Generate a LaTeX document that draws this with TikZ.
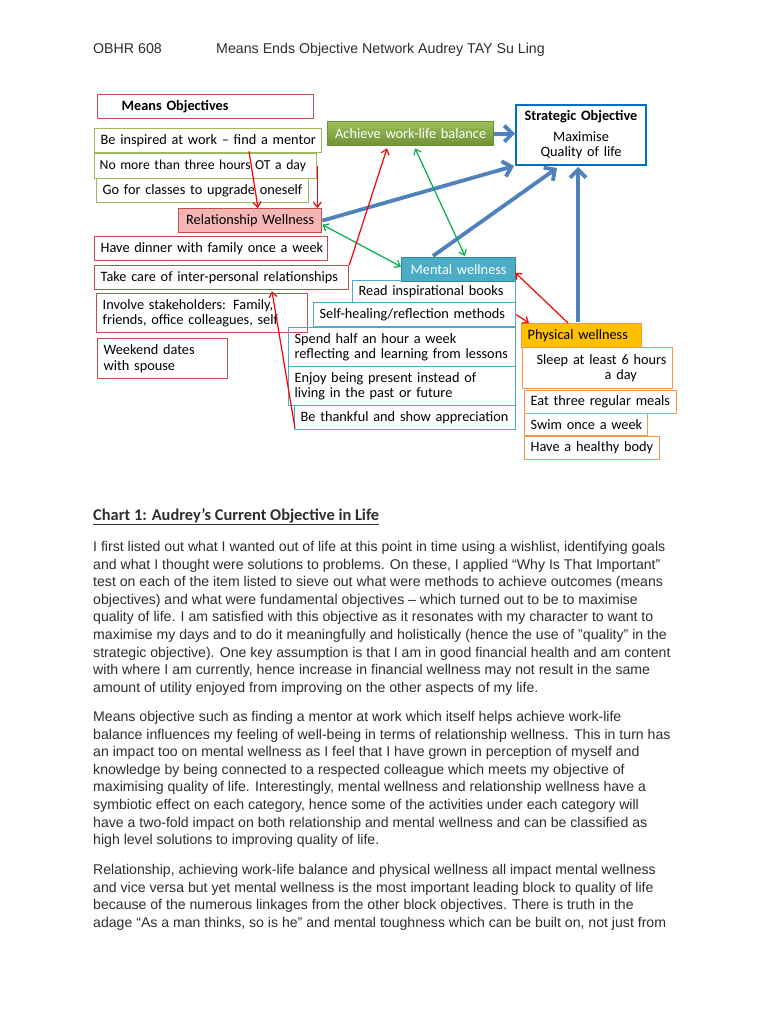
\documentclass[tikz,border=0pt]{standalone}
\usepackage{fontspec}
\setmainfont{Liberation Sans}
\newfontfamily\calfont{Carlito}
\usetikzlibrary{arrows.meta,calc}
\definecolor{myred}{HTML}{C0504D}
\definecolor{mygreen}{HTML}{9BBB59}
\definecolor{myteal}{HTML}{4BACC6}
\definecolor{mytealdark}{HTML}{31859C}
\definecolor{myorange}{HTML}{F79646}
\definecolor{myyellow}{HTML}{FFC000}
\definecolor{mypink}{HTML}{F5B5B4}
\definecolor{myblue}{HTML}{4F81BD}
\definecolor{stratblue}{HTML}{0070C0}
\definecolor{arrred}{HTML}{FF0000}
\definecolor{arrgreen}{HTML}{00B050}
\definecolor{greentop}{HTML}{9CBF5A}
\definecolor{greenbot}{HTML}{6F9136}
\newcommand\dfont{\calfont\fontsize{14.3}{15.5}\selectfont}
\newcommand\bodyfont{\fontsize{14.1}{17.6}\selectfont}
\tikzset{
  x=1pt, y=-1pt,
  base/.style={anchor=north west, inner xsep=6pt, inner ysep=0pt, align=left, font=\dfont, line width=1.3pt},
  rbox/.style={base, draw=myred},
  gbox/.style={base, draw=mygreen},
  bbox/.style={base, draw=myteal},
  obox/.style={base, draw=myorange},
  bline/.style={anchor=west, inner sep=0pt, font=\bodyfont, text=black!82, text height=10pt, text depth=3pt},
  bluearr/.style={draw=myblue, line width=3.8pt, -{Straight Barb[length=8pt,width=16pt]}},
  redarr/.style={draw=arrred, line width=1.2pt, -{Straight Barb[length=5pt,width=8pt]}},
  greenarr/.style={draw=arrgreen, line width=1.2pt, {Straight Barb[length=5pt,width=8pt]}-{Straight Barb[length=5pt,width=8pt]}}
}
\begin{document}
\begin{tikzpicture}
\fill[white] (0,0) rectangle (768,1024);
\useasboundingbox (0,0) rectangle (768,1024);

% header
\node[bline, font=\fontsize{14.2}{16}\selectfont] (hdr1) at (93,50) {OBHR 608};
\node[bline, font=\fontsize{14.2}{16}\selectfont] (hdr2) at (216,50) {Means Ends Objective Network Audrey TAY Su Ling};

% means objectives (left column)
\node[rbox, text width=204pt, minimum height=24pt, font=\dfont\bfseries] (meansobj) at (97,94) {\hspace*{18pt}\mbox{Means Objectives}};
\node[gbox, text width=215pt, minimum height=24pt] (mentor) at (94,128) {\mbox{Be inspired at work – find a mentor}};
\node[gbox, text width=212pt, inner xsep=5pt, minimum height=25pt, font=\calfont\fontsize{13.7}{15}\selectfont] (ot) at (94,153) {\mbox{No more than three hours OT a day}};
\node[gbox, text width=200pt, minimum height=24pt] (classes) at (96,178) {\mbox{Go for classes to upgrade oneself}};
\node[base, draw=myred, fill=mypink, text width=131pt, minimum height=24pt, align=center] (relw) at (178,208) {\mbox{Relationship Wellness}};
\node[rbox, text width=221pt, minimum height=24pt] (dinner) at (94,236) {\mbox{Have dinner with family once a week}};
\node[rbox, text width=242pt, minimum height=24pt] (care) at (94,265) {\mbox{Take care of inter-personal relationships}};
\node[rbox, text width=199pt, minimum height=39pt] (involve) at (96,293) {\mbox{Involve stakeholders: Family,}\\\mbox{friends, office colleagues, self}};
\node[rbox, text width=118pt, minimum height=40pt] (weekend) at (97,338) {Weekend dates\\with spouse};

% achieve work-life balance
\node[base, draw=greenbot, top color=greentop, bottom color=greenbot, text=white, text width=154pt, minimum height=24pt, align=center] (achieve) at (327,121) {\mbox{Achieve work-life balance}};

% strategic objective
\node[base, draw=stratblue, line width=2pt, text width=118pt, minimum height=60pt, align=center] (strat) at (515,104) {\mbox{\textbf{Strategic Objective}}\\[5pt]Maximise\\Quality of life};

% mental wellness group
\node[base, draw=mytealdark, fill=myteal, text=white, text width=102pt, minimum height=24pt, align=center] (mental) at (401,257) {\mbox{Mental wellness}};
\node[bbox, text width=151pt, minimum height=22pt] (books) at (352,280) {\mbox{Read inspirational books}};
\node[bbox, text width=190pt, minimum height=24pt] (selfheal) at (313,302) {\mbox{Self-healing/reflection methods}};
\node[bbox, text width=215pt, minimum height=39pt] (spend) at (288,327) {\mbox{Spend half an hour a week}\\\mbox{reflecting and learning from lessons}};
\node[bbox, text width=215pt, minimum height=39pt] (enjoy) at (288,366) {\mbox{Enjoy being present instead of}\\\mbox{living in the past or future}};
\node[bbox, text width=209pt, minimum height=24pt] (thankful) at (294,405) {\mbox{Be thankful and show appreciation}};

% physical wellness group
\node[base, draw=myorange, fill=myyellow, text width=108pt, minimum height=24pt] (phys) at (521,323) {\mbox{Physical wellness}};
\node[obox, text width=138pt, minimum height=41pt] (sleep) at (522,347) {\hspace*{8pt}\mbox{Sleep at least 6 hours}\\\hspace*{76pt}a day};
\node[obox, text width=140pt, minimum height=23pt] (meals) at (524,390) {\mbox{Eat three regular meals}};
\node[obox, text width=111pt, minimum height=22pt] (swim) at (524,413) {\mbox{Swim once a week}};
\node[obox, text width=123pt, minimum height=23pt] (healthy) at (524,436) {\mbox{Have a healthy body}};

% connectors
\draw[redarr] ($(mentor.south west)+(155,-2)$) -- ($(relw.north west)+(80,0)$);
\draw[redarr] (ot.east) -- ($(relw.north east)+(-5,0)$);
\draw[bluearr] (relw.east) -- ($(strat.south west)+(-1,0)$);
\draw[bluearr] ($(mental.north west)+(32,-1)$) -- ($(strat.south west)+(42,2)$);
\draw[bluearr] ($(phys.north west)+(57,-1)$) -- ($(strat.south west)+(63,1)$);
\draw[bluearr] (achieve.east) -- (strat.west |- achieve.east);
\draw[greenarr] ($(relw.east)+(0,4)$) -- ($(mental.west)+(0,-3)$);
\draw[greenarr] ($(achieve.south west)+(88,2)$) -- ($(mental.north west)+(64,-1)$);
\draw[redarr] (care.north east) -- ($(achieve.south west)+(60,2)$);
\draw[redarr] ($(thankful.south west)+(1,-2)$) -- ($(care.south west)+(178,1)$);
\draw[redarr] ($(phys.north west)+(47,0)$) -- ($(mental.east)+(-1,3)$);
\draw[redarr] (selfheal.east) -- ($(phys.north west)+(8,0)$);

% caption
\node[bline, font=\calfont\bfseries\fontsize{16.4}{18}\selectfont] (title) at (93,517) {\underline{Chart 1: Audrey’s Current Objective in Life}};

% paragraph 1
\foreach \t [count=\i] in {
 {I first listed out what I wanted out of life at this point in time using a wishlist, identifying goals},
 {and what I thought were solutions to problems. On these, I applied “Why Is That Important”},
 {test on each of the item listed to sieve out what were methods to achieve outcomes (means},
 {objectives) and what were fundamental objectives – which turned out to be to maximise},
 {quality of life. I am satisfied with this objective as it resonates with my character to want to},
 {maximise my days and to do it meaningfully and holistically (hence the use of ”quality” in the},
 {strategic objective). One key assumption is that I am in good financial health and am content},
 {with where I am currently, hence increase in financial wellness may not result in the same},
 {amount of utility enjoyed from improving on the other aspects of my life.}}
 \node[bline] (pa\i) at (93,548+17.6*\i-17.6) {\t};

% paragraph 2
\foreach \t [count=\i] in {
 {Means objective such as finding a mentor at work which itself helps achieve work-life},
 {balance influences my feeling of well-being in terms of relationship wellness. This in turn has},
 {an impact too on mental wellness as I feel that I have grown in perception of myself and},
 {knowledge by being connected to a respected colleague which meets my objective of},
 {maximising quality of life. Interestingly, mental wellness and relationship wellness have a},
 {symbiotic effect on each category, hence some of the activities under each category will},
 {have a two-fold impact on both relationship and mental wellness and can be classified as},
 {high level solutions to improving quality of life.}}
 \node[bline] (pb\i) at (93,718+17.6*\i-17.6) {\t};

% paragraph 3
\foreach \t [count=\i] in {
 {Relationship, achieving work-life balance and physical wellness all impact mental wellness},
 {and vice versa but yet mental wellness is the most important leading block to quality of life},
 {because of the numerous linkages from the other block objectives. There is truth in the},
 {adage “As a man thinks, so is he” and mental toughness which can be built on, not just from}}
 \node[bline] (pc\i) at (93,871+17.6*\i-17.6) {\t};
\end{tikzpicture}
\end{document}
